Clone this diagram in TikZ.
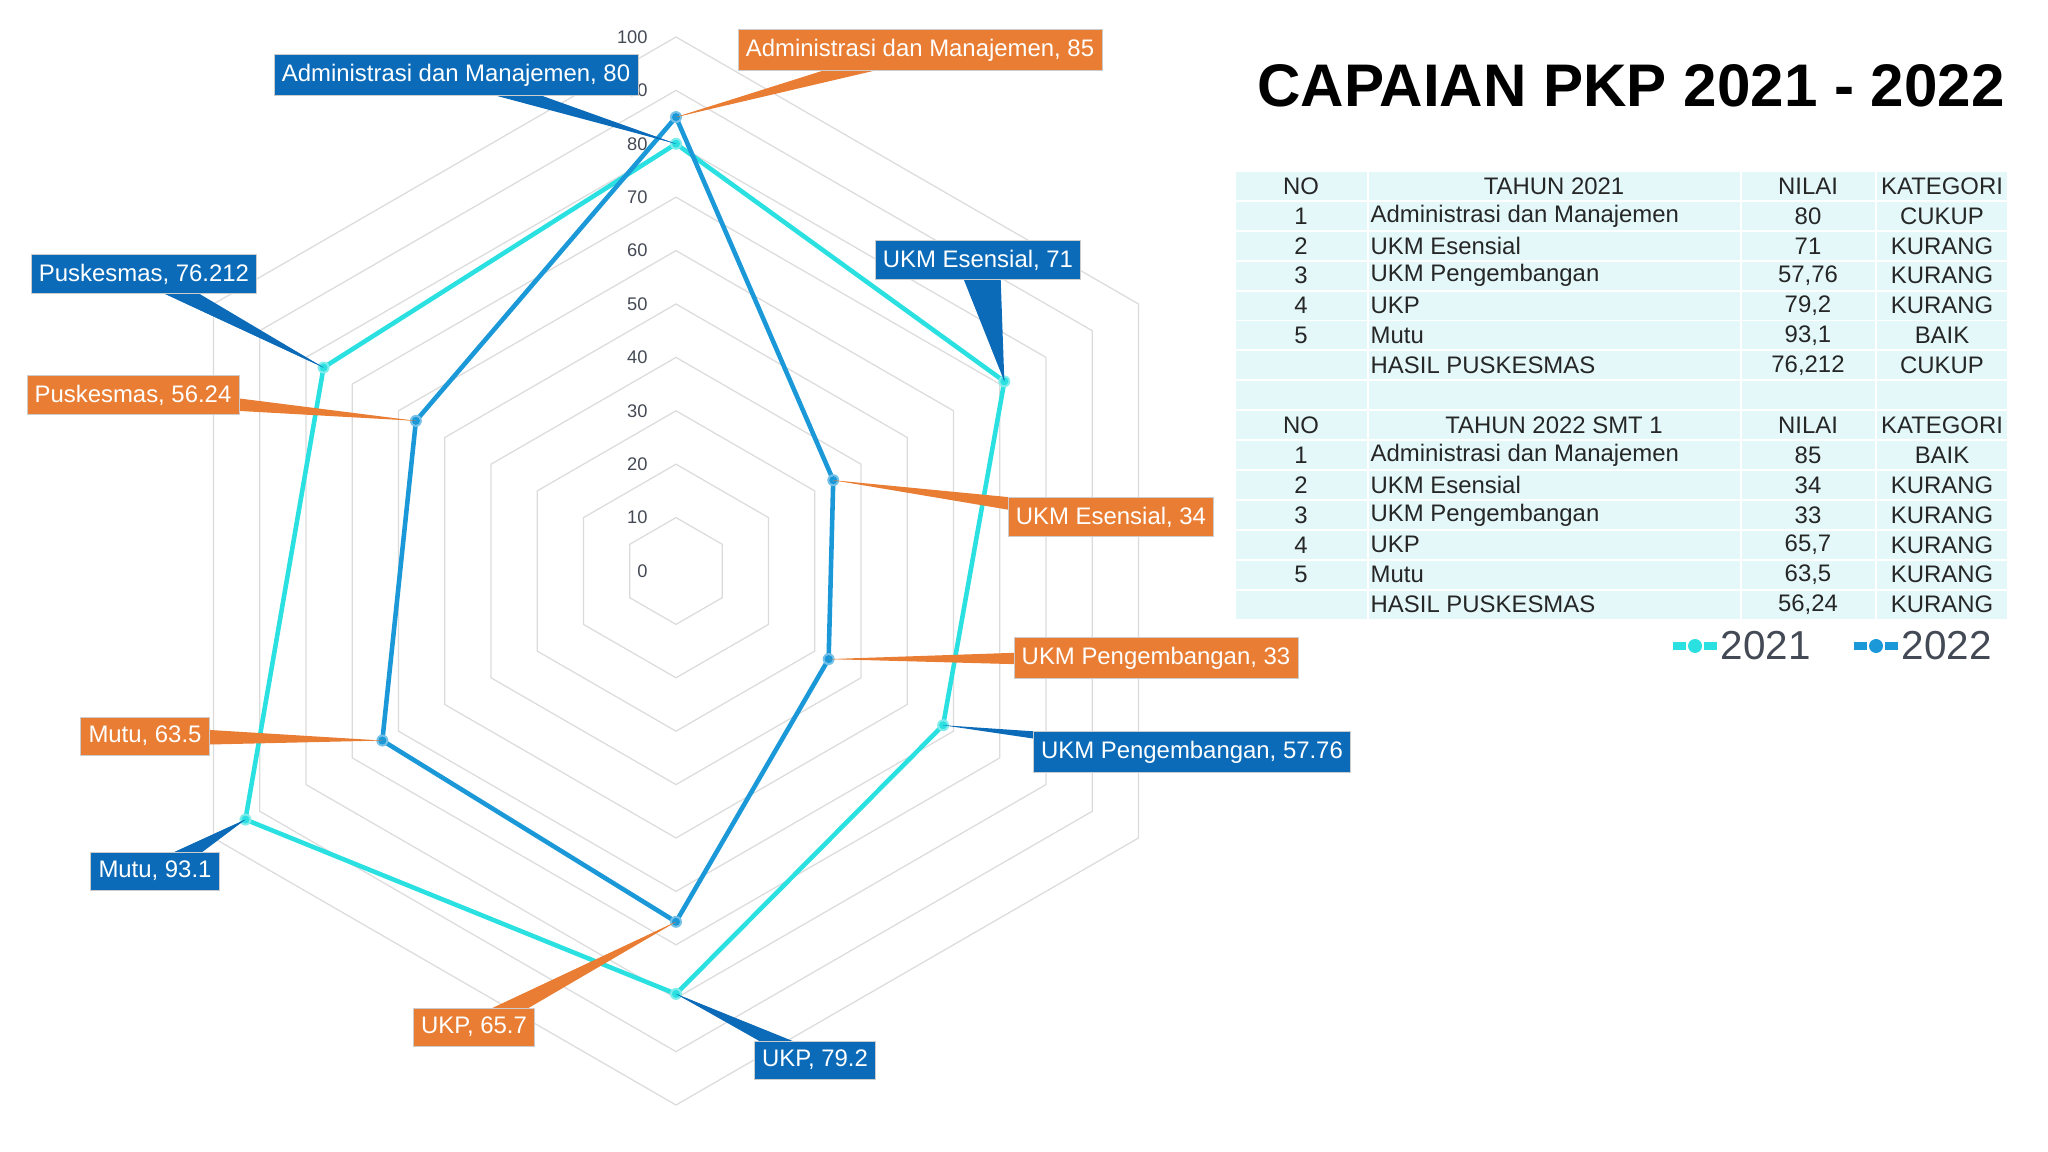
\documentclass[tikz,border=0pt]{standalone}
\usepackage{fontspec}
\setmainfont{Liberation Sans}
\usetikzlibrary{calc}
\pgfdeclarelayer{foreground}
\pgfsetlayers{main,foreground}
\definecolor{cyanL}{HTML}{2BE0E0}
\definecolor{blueL}{HTML}{1A98D8}
\definecolor{calB}{HTML}{0B6BB8}
\definecolor{calO}{HTML}{E87D33}
\definecolor{cellC}{HTML}{E4F8FA}
\definecolor{axG}{HTML}{444A55}
\newcommand\mkpt[3]{\coordinate (#1) at ({676+5.34*#3*cos(#2)},{571-5.34*#3*sin(#2)});}
\tikzset{
 grid/.style={draw=black!14,line width=0.35pt},
 s21/.style={draw=cyanL,line width=1.3pt,line join=round},
 s22/.style={draw=blueL,line width=1.3pt,line join=round},
 cB/.style={fill=calB,text=white,font=\fontsize{6.8}{8}\selectfont,inner xsep=2.2pt,inner ysep=2.6pt,draw=black!20,line width=0.2pt},
 cO/.style={cB,fill=calO},
 axl/.style={font=\fontsize{5.2}{6}\selectfont,text=axG,anchor=east},
 tb/.style={font=\fontsize{6.8}{8}\selectfont,text=black!85},
 lgl/.style={line width=2.2pt},
}
\newcommand\callout[3]{\fill[#3] ($(#1.center)+(-22,0)$) -- (#2) -- ($(#1.center)+(22,0)$) -- cycle;
  \fill[#3] ($(#1.center)+(0,-10)$) -- (#2) -- ($(#1.center)+(0,10)$) -- cycle;}
\begin{document}
\begin{tikzpicture}[x=0.01cm,y=-0.01cm]
\useasboundingbox (0,0) rectangle (2048,1152);
% grid
\foreach \v in {10,20,...,100}{
  \draw[grid] ({676+5.34*\v*cos(90)},{571-5.34*\v*sin(90)})
   \foreach \a in {30,-30,-90,-150,150}{ -- ({676+5.34*\v*cos(\a)},{571-5.34*\v*sin(\a)})} -- cycle;
}
\foreach \v in {0,10,...,100}{
  \node[axl] (ax\v) at (660,{571-5.34*\v}) {\v};
}
% data points
\mkpt{a1}{90}{80}\mkpt{b1}{30}{71}\mkpt{c1}{-30}{57.76}\mkpt{d1}{-90}{79.2}\mkpt{e1}{-150}{93.1}\mkpt{f1}{150}{76.212}
\mkpt{a2}{90}{85}\mkpt{b2}{30}{34}\mkpt{c2}{-30}{33}\mkpt{d2}{-90}{65.7}\mkpt{e2}{-150}{63.5}\mkpt{f2}{150}{56.24}
\draw[s21] (a1)--(b1)--(c1)--(d1)--(e1)--(f1)--cycle;
\draw[s22] (a2)--(b2)--(c2)--(d2)--(e2)--(f2)--cycle;
\foreach \p in {a1,b1,c1,d1,e1,f1}{\fill[cyanL!60] (\p) circle (6); \fill[cyanL] (\p) circle (4);}
\foreach \p in {a2,b2,c2,d2,e2,f2}{\fill[blueL!60] (\p) circle (6); \fill[blueL] (\p) circle (4);}
% callout boxes
\begin{pgfonlayer}{foreground}
\node[cB] (la1) at (456,75) {Administrasi dan Manajemen, 80};
\node[cO] (la2) at (920,50) {Administrasi dan Manajemen, 85};
\node[cB] (lb1) at (978,260) {UKM Esensial, 71};
\node[cO] (lb2) at (1111,517) {UKM Esensial, 34};
\node[cO] (lc2) at (1156,658) {UKM Pengembangan, 33};
\node[cB] (lc1) at (1192,752) {UKM Pengembangan, 57.76};
\node[cB] (ld1) at (815,1060) {UKP, 79.2};
\node[cO] (ld2) at (474,1027) {UKP, 65.7};
\node[cB] (le1) at (155,871) {Mutu, 93.1};
\node[cO] (le2) at (145,736) {Mutu, 63.5};
\node[cO] (lf2) at (133,395) {Puskesmas, 56.24};
\node[cB] (lf1) at (144,274) {Puskesmas, 76.212};
\end{pgfonlayer}
\callout{la1}{a1}{calB}\callout{la2}{a2}{calO}\callout{lb1}{b1}{calB}\callout{lb2}{b2}{calO}
\callout{lc2}{c2}{calO}\callout{lc1}{c1}{calB}\callout{ld1}{d1}{calB}\callout{ld2}{d2}{calO}
\callout{le1}{e1}{calB}\callout{le2}{e2}{calO}\callout{lf2}{f2}{calO}\callout{lf1}{f1}{calB}
% title
\node[font=\fontsize{17.1}{20}\selectfont\bfseries] (title) at (1631,86) {CAPAIAN PKP 2021 - 2022};
% table cells
\foreach \i in {0,...,14}{
  \foreach \xl/\xr in {1235/1368,1368/1741,1741/1876,1876/2008}{
    \fill[cellC] (\xl+1,{186+\i*29.9-14}) rectangle (\xr-1,{186+\i*29.9+14});
  }
}
\foreach \i/\no/\nm/\nv/\kt in {
 0/NO/{}/NILAI/KATEGORI,
 1/1/{Administrasi dan Manajemen}/80/CUKUP,
 2/2/{UKM Esensial}/71/KURANG,
 3/3/{UKM Pengembangan}/{57,76}/KURANG,
 4/4/UKP/{79,2}/KURANG,
 5/5/Mutu/{93,1}/BAIK,
 6/{}/{HASIL PUSKESMAS}/{76,212}/CUKUP,
 8/NO/{}/NILAI/KATEGORI,
 9/1/{Administrasi dan Manajemen}/85/BAIK,
 10/2/{UKM Esensial}/34/KURANG,
 11/3/{UKM Pengembangan}/33/KURANG,
 12/4/UKP/{65,7}/KURANG,
 13/5/Mutu/{63,5}/KURANG,
 14/{}/{HASIL PUSKESMAS}/{56,24}/KURANG}{
  \node[tb] (tno\i) at (1301,{186+\i*29.9}) {\no};
  \node[tb,anchor=west,inner xsep=0pt] (tnm\i) at (1370,{186+\i*29.9}) {\nm};
  \node[tb] (tnv\i) at (1808,{186+\i*29.9}) {\nv};
  \node[tb] (tkt\i) at (1942,{186+\i*29.9}) {\kt};
}
\node[tb] (th1) at (1554,186) {TAHUN 2021};
\node[tb] (th2) at (1554,{186+8*29.9}) {TAHUN 2022 SMT 1};
% legend
\coordinate (m1) at (1695,646);
\draw[cyanL,lgl] ($(m1)+(-22,0)$) -- ($(m1)+(-9,0)$) ($(m1)+(9,0)$) -- ($(m1)+(22,0)$);
\fill[cyanL] (m1) circle (7);
\node[font=\fontsize{11.5}{13}\selectfont,text=axG,anchor=west,inner sep=0pt] (lg1) at (1720,646) {2021};
\coordinate (m2) at (1876,646);
\draw[blueL,lgl] ($(m2)+(-22,0)$) -- ($(m2)+(-9,0)$) ($(m2)+(9,0)$) -- ($(m2)+(22,0)$);
\fill[blueL] (m2) circle (7);
\node[font=\fontsize{11.5}{13}\selectfont,text=axG,anchor=west,inner sep=0pt] (lg2) at (1901,646) {2022};
\end{tikzpicture}
\end{document}
